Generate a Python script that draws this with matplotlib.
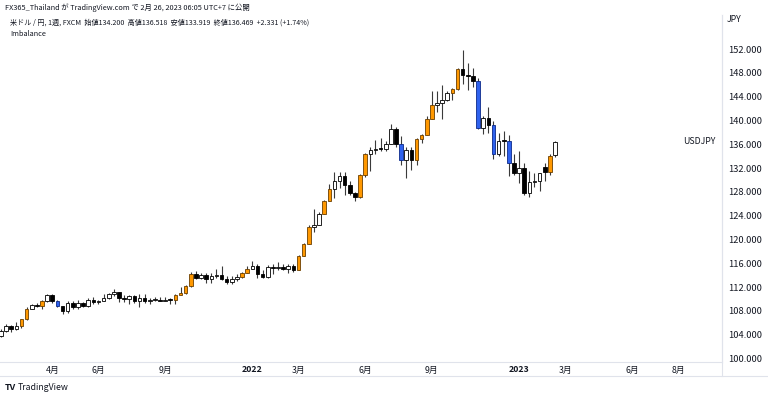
import datetime as dt
import numpy as np
import matplotlib
matplotlib.use('Agg')
import matplotlib.pyplot as plt

plt.rcParams['font.family'] = ['Noto Sans CJK JP', 'DejaVu Sans']

# weekly USDJPY candles, first week starts 2021-01-25
start = dt.date(2021, 1, 25)
opens = [103.8, 104.7, 105.4, 104.9, 105.4, 106.6, 108.3, 109.0, 108.9, 109.7,
         110.7, 109.7, 108.8, 107.9, 109.3, 108.6, 109.4, 108.9, 109.8, 109.5,
         109.7, 110.2, 110.8, 111.1, 110.1, 110.0, 110.5, 109.7, 110.2, 109.6,
         109.8, 109.8, 109.7, 109.9, 109.9, 110.7, 111.0, 112.2, 114.2, 113.5,
         114.0, 113.4, 113.9, 114.0, 113.4, 112.8, 113.4, 113.7, 114.4, 115.1,
         115.6, 114.2, 113.7, 115.3, 115.2, 115.4, 115.0, 115.5, 114.8, 117.3,
         119.2, 122.1, 122.5, 124.3, 126.4, 128.5, 129.8, 130.6, 129.2, 127.9,
         127.1, 130.9, 134.4, 135.0, 135.25, 135.2, 136.1, 138.5, 136.1, 133.3,
         135.0, 133.4, 136.9, 137.6, 140.2, 142.6, 142.9, 143.4, 144.7, 145.3,
         148.7, 147.7, 147.5, 146.6, 138.8, 140.4, 139.2, 134.3, 136.7, 136.5,
         132.9, 131.1, 132.1, 127.9, 129.6, 129.9, 132.2, 131.4, 134.2]
highs = [104.9, 105.8, 105.6, 106.2, 106.7, 108.6, 109.2, 109.4, 109.9, 110.9,
         110.9, 109.8, 108.9, 109.7, 109.6, 109.8, 109.5, 110.2, 110.3, 109.8,
         110.8, 111.0, 111.7, 111.2, 110.7, 110.6, 110.6, 110.8, 110.8, 110.2,
         110.4, 110.4, 110.4, 110.2, 110.8, 112.1, 112.3, 114.5, 114.7, 114.3,
         114.4, 114.3, 115.0, 115.5, 113.9, 113.9, 114.2, 114.5, 115.5, 116.4,
         115.8, 114.9, 115.7, 115.8, 116.3, 115.9, 115.8, 115.8, 117.4, 119.4,
         122.4, 125.1, 124.7, 126.7, 129.4, 131.3, 131.3, 131.3, 129.8, 128.0,
         131.0, 134.6, 135.6, 136.7, 137.0, 136.6, 139.4, 138.9, 137.4, 135.5,
         135.6, 137.0, 137.7, 140.8, 145.0, 145.0, 145.9, 145.0, 145.4, 148.9,
         151.9, 149.7, 148.8, 147.2, 140.8, 142.2, 139.9, 137.9, 138.2, 137.5,
         134.4, 134.8, 132.9, 131.6, 131.1, 131.2, 132.9, 134.3, 136.518]
lows = [103.6, 104.5, 104.5, 104.8, 105.2, 106.4, 108.3, 108.6, 108.4, 109.5,
        109.4, 108.6, 107.5, 107.6, 108.3, 108.3, 108.6, 108.7, 109.2, 109.2,
        109.6, 110.0, 110.5, 109.5, 109.5, 109.1, 109.4, 108.7, 109.3, 109.1,
        109.6, 109.6, 109.6, 109.1, 109.1, 110.6, 110.8, 112.0, 113.4, 113.3,
        112.7, 112.7, 113.6, 113.2, 112.5, 112.6, 113.1, 113.6, 114.3, 115.0,
        113.5, 113.5, 113.5, 114.2, 114.9, 114.8, 114.4, 114.6, 114.8, 117.2,
        119.2, 121.2, 122.4, 124.3, 126.4, 126.9, 128.6, 127.5, 127.5, 126.4,
        126.9, 130.5, 131.5, 134.3, 134.8, 134.8, 136.0, 135.6, 132.5, 130.4,
        131.7, 132.6, 136.2, 137.5, 140.2, 141.5, 140.3, 143.3, 143.5, 145.2,
        146.2, 145.1, 145.7, 138.5, 137.7, 137.9, 133.6, 134.1, 134.1, 130.6,
        130.8, 129.5, 127.5, 127.2, 128.9, 128.1, 129.8, 130.9, 133.919]
closes = [104.7, 105.4, 104.9, 105.4, 106.6, 108.3, 109.0, 108.9, 109.7, 110.7,
          109.7, 108.8, 107.9, 109.3, 108.6, 109.4, 108.9, 109.8, 109.5, 109.7,
          110.2, 110.8, 111.1, 110.1, 110.0, 110.5, 109.7, 110.2, 109.6, 109.8,
          109.8, 109.7, 109.9, 109.9, 110.7, 111.0, 112.2, 114.2, 113.5, 114.0,
          113.4, 113.9, 114.0, 113.4, 112.8, 113.4, 113.7, 114.4, 115.1, 115.6,
          114.2, 113.7, 115.3, 115.2, 115.4, 115.0, 115.5, 114.8, 117.3, 119.2,
          122.1, 122.5, 124.3, 126.4, 128.5, 129.8, 130.6, 129.2, 127.9, 127.1,
          130.9, 134.4, 135.0, 135.2, 135.2, 136.1, 138.5, 136.1, 133.3, 135.0,
          133.4, 136.9, 137.6, 140.2, 142.6, 142.9, 143.4, 144.7, 145.3, 148.7,
          147.7, 147.5, 146.6, 138.8, 140.4, 139.2, 134.3, 136.6, 136.5, 132.9,
          131.1, 132.1, 127.9, 129.6, 129.9, 131.2, 131.4, 134.1, 136.469]
# w = normal up, k = normal down, o = imbalance up, b = imbalance down
kinds = list('wwkwoowkow'
             'kbkwkwkwkw'
             'wwwkkwkwkw'
             'wkwkooookw'
             'kwwkkwwoow'
             'kkwkwkwkoo'
             'owwoowwkkk'
             'oowwkwwkbw'
             'koooowwwoo'
             'kkkbwkbwkb'
             'kwkwwwkow')

face = {'w': 'white', 'k': '#000000', 'o': '#ff9800', 'b': '#2f62ee'}
edge = {'w': '#000000', 'k': '#000000', 'o': '#6b3f00', 'b': '#0c2a8a'}

yticks = np.arange(100, 153, 4)
month_ticks = [(dt.date(2021, 4, 5), '4月'), (dt.date(2021, 6, 7), '6月'),
               (dt.date(2021, 9, 6), '9月'), (dt.date(2022, 1, 3), '2022'),
               (dt.date(2022, 3, 7), '3月'), (dt.date(2022, 6, 6), '6月'),
               (dt.date(2022, 9, 5), '9月'), (dt.date(2023, 1, 2), '2023'),
               (dt.date(2023, 3, 6), '3月'), (dt.date(2023, 6, 5), '6月'),
               (dt.date(2023, 8, 7), '8月')]

W, H = 768, 396
fig = plt.figure(figsize=(W / 100, H / 100), dpi=100)
ax = fig.add_axes([0, 1 - 362 / H, 722 / W, (362 - 15) / H])

n = len(opens)
x = np.arange(n)
o = np.array(opens); c = np.array(closes)
hi = np.array(highs); lo = np.array(lows)
for i in range(n):
    k = kinds[i]
    ax.vlines(x[i], lo[i], hi[i], color='#3a3a3a', lw=0.8, zorder=1)
    b = min(o[i], c[i])
    h = max(abs(c[i] - o[i]), 0.12)
    ax.bar(x[i], h, bottom=b, width=0.7, color=face[k], edgecolor=edge[k],
           linewidth=0.6, zorder=2)

ax.set_xlim(-0.19, 140.55)
ax.set_ylim(99.41, 157.74)

ax.yaxis.tick_right()
ax.set_yticks(yticks)
ax.set_yticklabels([f'{v:.3f}' for v in yticks], fontsize=6.7, color='#131722')
ax.tick_params(axis='y', length=0, pad=4.5)

pos = [(d - start).days / 7 for d, _ in month_ticks]
ax.set_xticks(pos)
ax.set_xticklabels([l for _, l in month_ticks], fontsize=6.3, color='#131722')
for t in ax.get_xticklabels():
    if t.get_text().isdigit():
        t.set_fontweight('bold')
ax.tick_params(axis='x', length=0, pad=2.5)

for s in ['left', 'top']:
    ax.spines[s].set_visible(False)
for s in ['right', 'bottom']:
    ax.spines[s].set_color('#e0e3eb')
    ax.spines[s].set_linewidth(0.8)

# frame lines of the panel
fig.add_artist(plt.Line2D([0, 1], [1 - 376 / H] * 2, color='#e0e3eb', lw=0.8))
fig.add_artist(plt.Line2D([722 / W] * 2, [1 - 376 / H, 1 - 15 / H], color='#e0e3eb', lw=0.8))

def fx(px):
    return px / W

def fy(py):
    return 1 - py / H

fig.text(fx(5), fy(8), 'FX365_Thailand が TradingView.com で 2月 26, 2023 06:05 UTC+7 に公開',
         fontsize=5.3, color='#131722', va='center')
fig.text(fx(10), fy(23), '米ドル / 円, 1週, FXCM  始値134.200  高値136.518  安値133.919  終値136.469  +2.331 (+1.74%)',
         fontsize=5.1, color='#131722', va='center')
fig.text(fx(10), fy(34), 'Imbalance', fontsize=5.3, color='#131722', va='center')
fig.text(fx(727), fy(20), 'JPY', fontsize=6.3, color='#131722', va='center')
ax.text(716 / 722, closes[-1], 'USDJPY', transform=ax.get_yaxis_transform(),
        ha='right', va='center', fontsize=6.3, color='#131722')
fig.text(fx(5), fy(387), 'TV', fontsize=6.5, fontweight='bold', color='#131722', va='center')
fig.text(fx(18), fy(387), 'TradingView', fontsize=6.3, color='#131722', va='center')

fig.savefig('out.png', dpi=100, facecolor='white')
